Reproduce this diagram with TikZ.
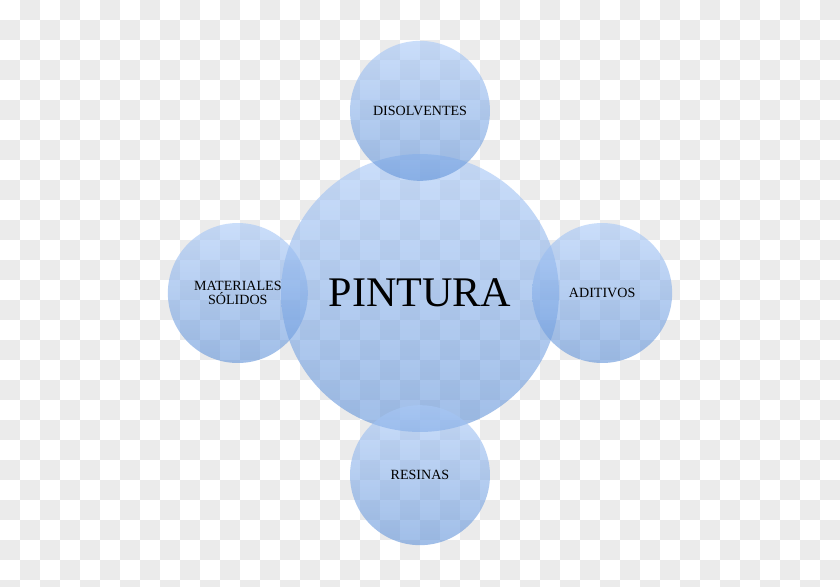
\documentclass[tikz,border=0pt]{standalone}
\usepackage{fontspec}
\setmainfont{Liberation Serif}
\usetikzlibrary{positioning}
\definecolor{balltop}{RGB}{168,200,247}
\definecolor{ballbottom}{RGB}{97,147,217}
\definecolor{checkgrey}{HTML}{EBEBEB}

\tikzset{
  ball/.style={circle, inner sep=0pt, top color=balltop, bottom color=ballbottom,
    fill opacity=0.6, text opacity=1, align=center},
  bigball/.style={ball, minimum size=5.56cm, font=\fontsize{24}{24}\selectfont},
  smallball/.style={ball, minimum size=2.8cm, font=\fontsize{8}{8}\selectfont},
}

\begin{document}
\begin{tikzpicture}[x=0.02cm, y=-0.02cm, node distance=-0.55cm]
  % Background
  \useasboundingbox (0,0) rectangle (840,586);
  \clip (0,0) rectangle (840,586);
  \fill[white] (0,0) rectangle (840,586);
  \foreach \i in {1,3,...,41} \foreach \j in {0,2,...,28}
    \fill[checkgrey] (20*\i,20*\j) rectangle ++(20,20);
  \foreach \i in {0,2,...,40} \foreach \j in {1,3,...,29}
    \fill[checkgrey] (20*\i,20*\j) rectangle ++(20,20);
  % Define nodes
  \node[bigball] (pintura) at (420,293) {PINTURA};
  \node[smallball, above=of pintura] (disolventes) {DISOLVENTES};
  \node[smallball, left=of pintura]  (materiales) {MATERIALES\\SÓLIDOS};
  \node[smallball, right=of pintura] (aditivos) {ADITIVOS};
  \node[smallball, below=of pintura] (resinas) {RESINAS};
\end{tikzpicture}
\end{document}
